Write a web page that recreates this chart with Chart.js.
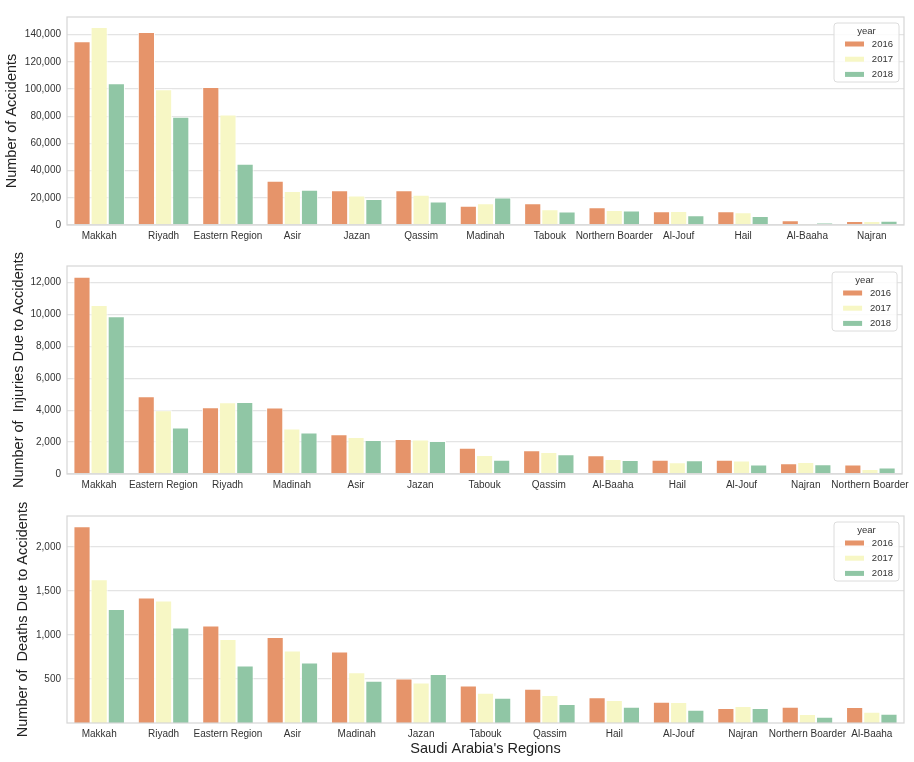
<!DOCTYPE html>
<html>
<head>
<meta charset="utf-8">
<script src="https://cdn.jsdelivr.net/npm/chart.js@4.4.0/dist/chart.umd.min.js"></script>
<style>
  html, body { margin: 0; padding: 0; background: #fff; }
  #wrap { position: relative; width: 914px; height: 762px; overflow: hidden; }
  .panel { position: absolute; left: 0; width: 914px; }
</style>
</head>
<body>
<div id="wrap">
  <div class="panel" style="top:0;height:245px"><canvas id="accidents"></canvas></div>
  <div class="panel" style="top:245px;height:255px"><canvas id="injuries"></canvas></div>
  <div class="panel" style="top:500px;height:262px"><canvas id="deaths"></canvas></div>
</div>
<script>
// years shown in every panel
const years = ['2016', '2017', '2018'];
const yearColors = ['#e6946a', '#f7f7c5', '#90c6a5'];

// accidents
const accRegions = ['Makkah', 'Riyadh', 'Eastern Region', 'Asir', 'Jazan', 'Qassim', 'Madinah',
    'Tabouk', 'Northern Boarder', 'Al-Jouf', 'Hail', 'Al-Baaha', 'Najran'];
const acc2016 = [135100, 142000, 101600, 32500, 25600, 25600, 14100, 16000, 13100, 10100, 10100, 3500, 3000];
const acc2017 = [145700, 99800, 81300, 25100, 21700, 22200, 16000, 11600, 11100, 10300, 9400, 1000, 3000];
const acc2018 = [104300, 79600, 45100, 25900, 19200, 17300, 20300, 9900, 10600, 7200, 6700, 1700, 3200];
const accTicks = [0, 20000, 40000, 60000, 80000, 100000, 120000, 140000];

// injuries
const injRegions = ['Makkah', 'Eastern Region', 'Riyadh', 'Madinah', 'Asir', 'Jazan', 'Tabouk',
    'Qassim', 'Al-Baaha', 'Hail', 'Al-Jouf', 'Najran', 'Northern Boarder'];
const inj2016 = [12380, 4880, 4190, 4170, 2490, 2200, 1650, 1490, 1170, 900, 900, 670, 590];
const inj2017 = [10600, 4000, 4500, 2850, 2320, 2160, 1190, 1380, 940, 730, 840, 750, 310];
const inj2018 = [9900, 2910, 4520, 2600, 2140, 2070, 900, 1240, 880, 860, 590, 610, 400];
const injTicks = [0, 2000, 4000, 6000, 8000, 10000, 12000];

// deaths
const deathRegions = ['Makkah', 'Riyadh', 'Eastern Region', 'Asir', 'Madinah', 'Jazan', 'Tabouk',
    'Qassim', 'Hail', 'Al-Jouf', 'Najran', 'Northern Boarder', 'Al-Baaha'];
const death2016 = [2234, 1425, 1108, 975, 813, 506, 427, 389, 291, 242, 170, 185, 181];
const death2017 = [1633, 1391, 953, 824, 575, 461, 344, 318, 261, 238, 193, 102, 129];
const death2018 = [1293, 1085, 654, 688, 480, 556, 287, 215, 185, 151, 170, 72, 106];
const deathTicks = [500, 1000, 1500, 2000];

const FONT = "'Liberation Sans', Arial, sans-serif";
const TEXT = '#333333';

// box round the plot + the "year" legend in the top right corner
const framePlugin = {
    id: 'frame',
    afterDraw(chart) {
        const { ctx, chartArea: a } = chart;
        ctx.save();
        ctx.strokeStyle = '#d6d6d6';
        ctx.lineWidth = 1.2;
        ctx.strokeRect(a.left, a.top, a.right - a.left, a.bottom - a.top);

        const w = 65, h = 59;
        const x = a.right - 5 - w, y = a.top + 6;
        ctx.beginPath();
        ctx.roundRect(x, y, w, h, 3);
        ctx.fillStyle = 'rgba(255,255,255,0.85)';
        ctx.fill();
        ctx.strokeStyle = '#dcdcdc';
        ctx.lineWidth = 1;
        ctx.stroke();

        ctx.font = '9.5px ' + FONT;
        ctx.fillStyle = TEXT;
        ctx.textBaseline = 'middle';
        ctx.textAlign = 'center';
        ctx.fillText('year', x + w / 2, y + 8.5);
        chart.data.datasets.forEach((ds, i) => {
            const ry = y + 21 + i * 15.2;
            ctx.fillStyle = ds.backgroundColor;
            ctx.fillRect(x + 11, ry - 2.5, 19, 5);
            ctx.fillStyle = TEXT;
            ctx.textAlign = 'right';
            ctx.fillText(ds.label, x + w - 6, ry);
        });
        ctx.restore();
    }
};

function makeChart(id, regions, series, opts) {
    const ctx = document.getElementById(id).getContext('2d');
    return new Chart(ctx, {
        type: 'bar',
        data: {
            labels: regions,
            datasets: series.map((vals, i) => ({
                label: years[i],
                data: vals,
                backgroundColor: yearColors[i],
                borderColor: 'rgba(255,255,255,0.9)',
                borderWidth: 1,
                categoryPercentage: 0.8,
                barPercentage: 1.0
            }))
        },
        options: {
            responsive: true,
            maintainAspectRatio: false,
            animation: false,
            layout: { padding: { top: opts.top, right: 10, left: 0, bottom: 0 } },
            plugins: {
                legend: { display: false },
                tooltip: { enabled: false }
            },
            scales: {
                x: {
                    grid: { display: false, drawTicks: false },
                    border: { display: false },
                    ticks: {
                        color: TEXT, font: { family: FONT, size: 10 },
                        padding: 5, maxRotation: 0, autoSkip: false
                    },
                    title: opts.xTitle ? {
                        display: true, text: opts.xTitle, color: '#222',
                        font: { family: FONT, size: 14.5 },
                        padding: { top: 0, bottom: 4.3 }
                    } : { display: false },
                    afterFit: s => { s.height = opts.xHeight; }
                },
                y: {
                    min: 0,
                    max: opts.max,
                    grid: { color: '#e4e4e4', lineWidth: 1.3, drawTicks: false },
                    border: { display: false },
                    ticks: {
                        color: TEXT, font: { family: FONT, size: 10 },
                        padding: 6,
                        callback: v => v.toLocaleString('en-US')
                    },
                    afterBuildTicks: s => {
                        s.ticks = opts.ticks.map(v => ({ value: v }));
                    },
                    title: {
                        display: true, text: opts.yTitle, color: '#222',
                        font: { family: FONT, size: 14.5 },
                        padding: { top: opts.yTitlePad, bottom: 0 }
                    },
                    afterFit: s => { s.width = 67; }
                }
            }
        },
        plugins: [framePlugin]
    });
}

makeChart('accidents', accRegions, [acc2016, acc2017, acc2018], {
    top: 17, xHeight: 20, max: 153000, ticks: accTicks,
    yTitle: 'Number of Accidents', yTitlePad: 3.3
});
makeChart('injuries', injRegions, [inj2016, inj2017, inj2018], {
    top: 21, xHeight: 26, max: 13050, ticks: injTicks,
    yTitle: 'Number of  Injuries Due to Accidents', yTitlePad: 10
});
makeChart('deaths', deathRegions, [death2016, death2017, death2018], {
    top: 16, xHeight: 39, max: 2350, ticks: deathTicks,
    yTitle: 'Number of  Deaths Due to Accidents', yTitlePad: 14.3,
    xTitle: "Saudi Arabia's Regions"
});
</script>
</body>
</html>
